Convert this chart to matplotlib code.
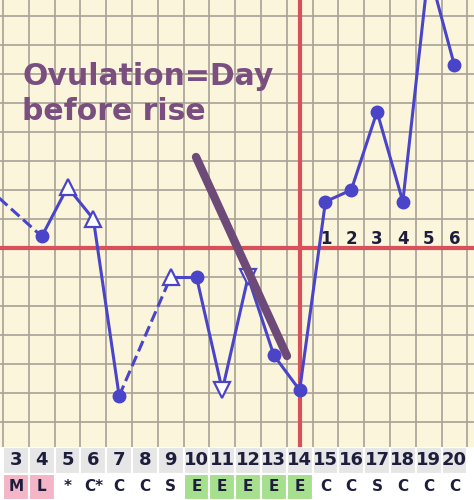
import matplotlib
matplotlib.use("Agg")
import matplotlib.pyplot as plt
import numpy as np

days = [2, 4, 5, 6, 7, 9, 10, 11, 12, 13, 14, 15, 16, 17, 18, 19, 20]
temps = [97.70, 97.54, 97.71, 97.60, 96.99, 97.40, 97.40, 97.01, 97.40, 97.13, 97.01, 97.66, 97.70, 97.97, 97.66, 98.46, 98.13]
markers = ['', 'o', '^', '^', 'o', '^', 'o', 'v', 'v', 'o', 'o', 'o', 'o', 'o', 'o', 'o', 'o']
dashed_segments = [(2, 4), (7, 9)]
coverline = 97.5
ovulation_day = 14
post_labels = ['1', '2', '3', '4', '5', '6']
post_days = [15, 16, 17, 18, 19, 20]
row_days = list(range(3, 21))
row_codes = ['M', 'L', '*', 'C*', 'C', 'C', 'S', 'E', 'E', 'E', 'E', 'E', 'C', 'C', 'S', 'C', 'C', 'C']
row_colors = {'M': '#f4b6c6', 'L': '#f4b6c6', 'E': '#a6e08f'}

W, H = 474, 500
fig = plt.figure(figsize=(W/100, H/100), dpi=100)
fig.patch.set_facecolor('white')
x0, x1 = 2.38, 20.76
ax = fig.add_axes([0, 53/H, 1, 447/H])
ax.set_facecolor('#fbf5dc')
ymin, ymax = 96.814, 98.355
ax.set_xlim(x0, x1); ax.set_ylim(ymin, ymax)
for v in np.arange(2.5, 21, 1):
    ax.axvline(v, color='#a8a298', lw=1.2, zorder=1)
for v in np.arange(96.9, 98.4, 0.1):
    ax.axhline(v, color='#a8a298', lw=1.2, zorder=1)
ax.axhline(coverline, color='#d9505a', lw=3, zorder=2)
ax.axvline(ovulation_day, color='#d9505a', lw=3, zorder=2)
ax.set_xticks([]); ax.set_yticks([])
for s in ax.spines.values(): s.set_visible(False)

col = '#4a45c8'
for i in range(len(days)-1):
    seg = (days[i], days[i+1])
    ls = '--' if seg in dashed_segments else '-'
    ax.plot(seg, (temps[i], temps[i+1]), color=col, lw=2.2, ls=ls, zorder=3)
for d, t, m in zip(days, temps, markers):
    if m == 'o':
        ax.plot(d, t, 'o', color=col, ms=9, zorder=4)
    elif m:
        ax.plot(d, t, m, mfc='white', mec=col, mew=1.6, ms=11, zorder=4)
for d, l in zip(post_days, post_labels):
    ax.text(d, coverline + 0.03, l, ha='center', va='center', fontsize=12, fontweight='bold', color='#1e1e3c', zorder=5)

def px(xp, yp):
    return x0 + xp/W*(x1-x0), ymax - yp/447*(ymax-ymin)
tx, ty = px(22, 62)
ax.text(tx, ty, 'Ovulation=Day\nbefore rise', ha='left', va='top',
        fontsize=21.5, fontweight='bold', color='#7a4f80', linespacing=1.25, zorder=6)
p1, p2 = px(196, 157), px(287, 356)
ax.plot([p1[0], p2[0]], [p1[1], p2[1]], color='#6e4a78', lw=6, solid_capstyle='round', zorder=5)

# bottom rows
bx = fig.add_axes([0, 0, 1, 53/H])
bx.set_xlim(x0, x1); bx.set_ylim(0, 2)
bx.axis('off')
for d, c in zip(row_days, row_codes):
    bx.add_patch(plt.Rectangle((d-0.5, 1), 1, 1, fc='#e6e6e6', ec='white', lw=1.5))
    bx.add_patch(plt.Rectangle((d-0.5, 0), 1, 1, fc=row_colors.get(c, 'white'), ec='white', lw=1.5))
    bx.text(d, 1.5, str(d), ha='center', va='center', fontsize=13, fontweight='bold', color='#1e1e3c')
    bx.text(d, 0.5, c, ha='center', va='center', fontsize=11, fontweight='bold', color='#1e1e3c')
fig.savefig('out.png', dpi=100)
